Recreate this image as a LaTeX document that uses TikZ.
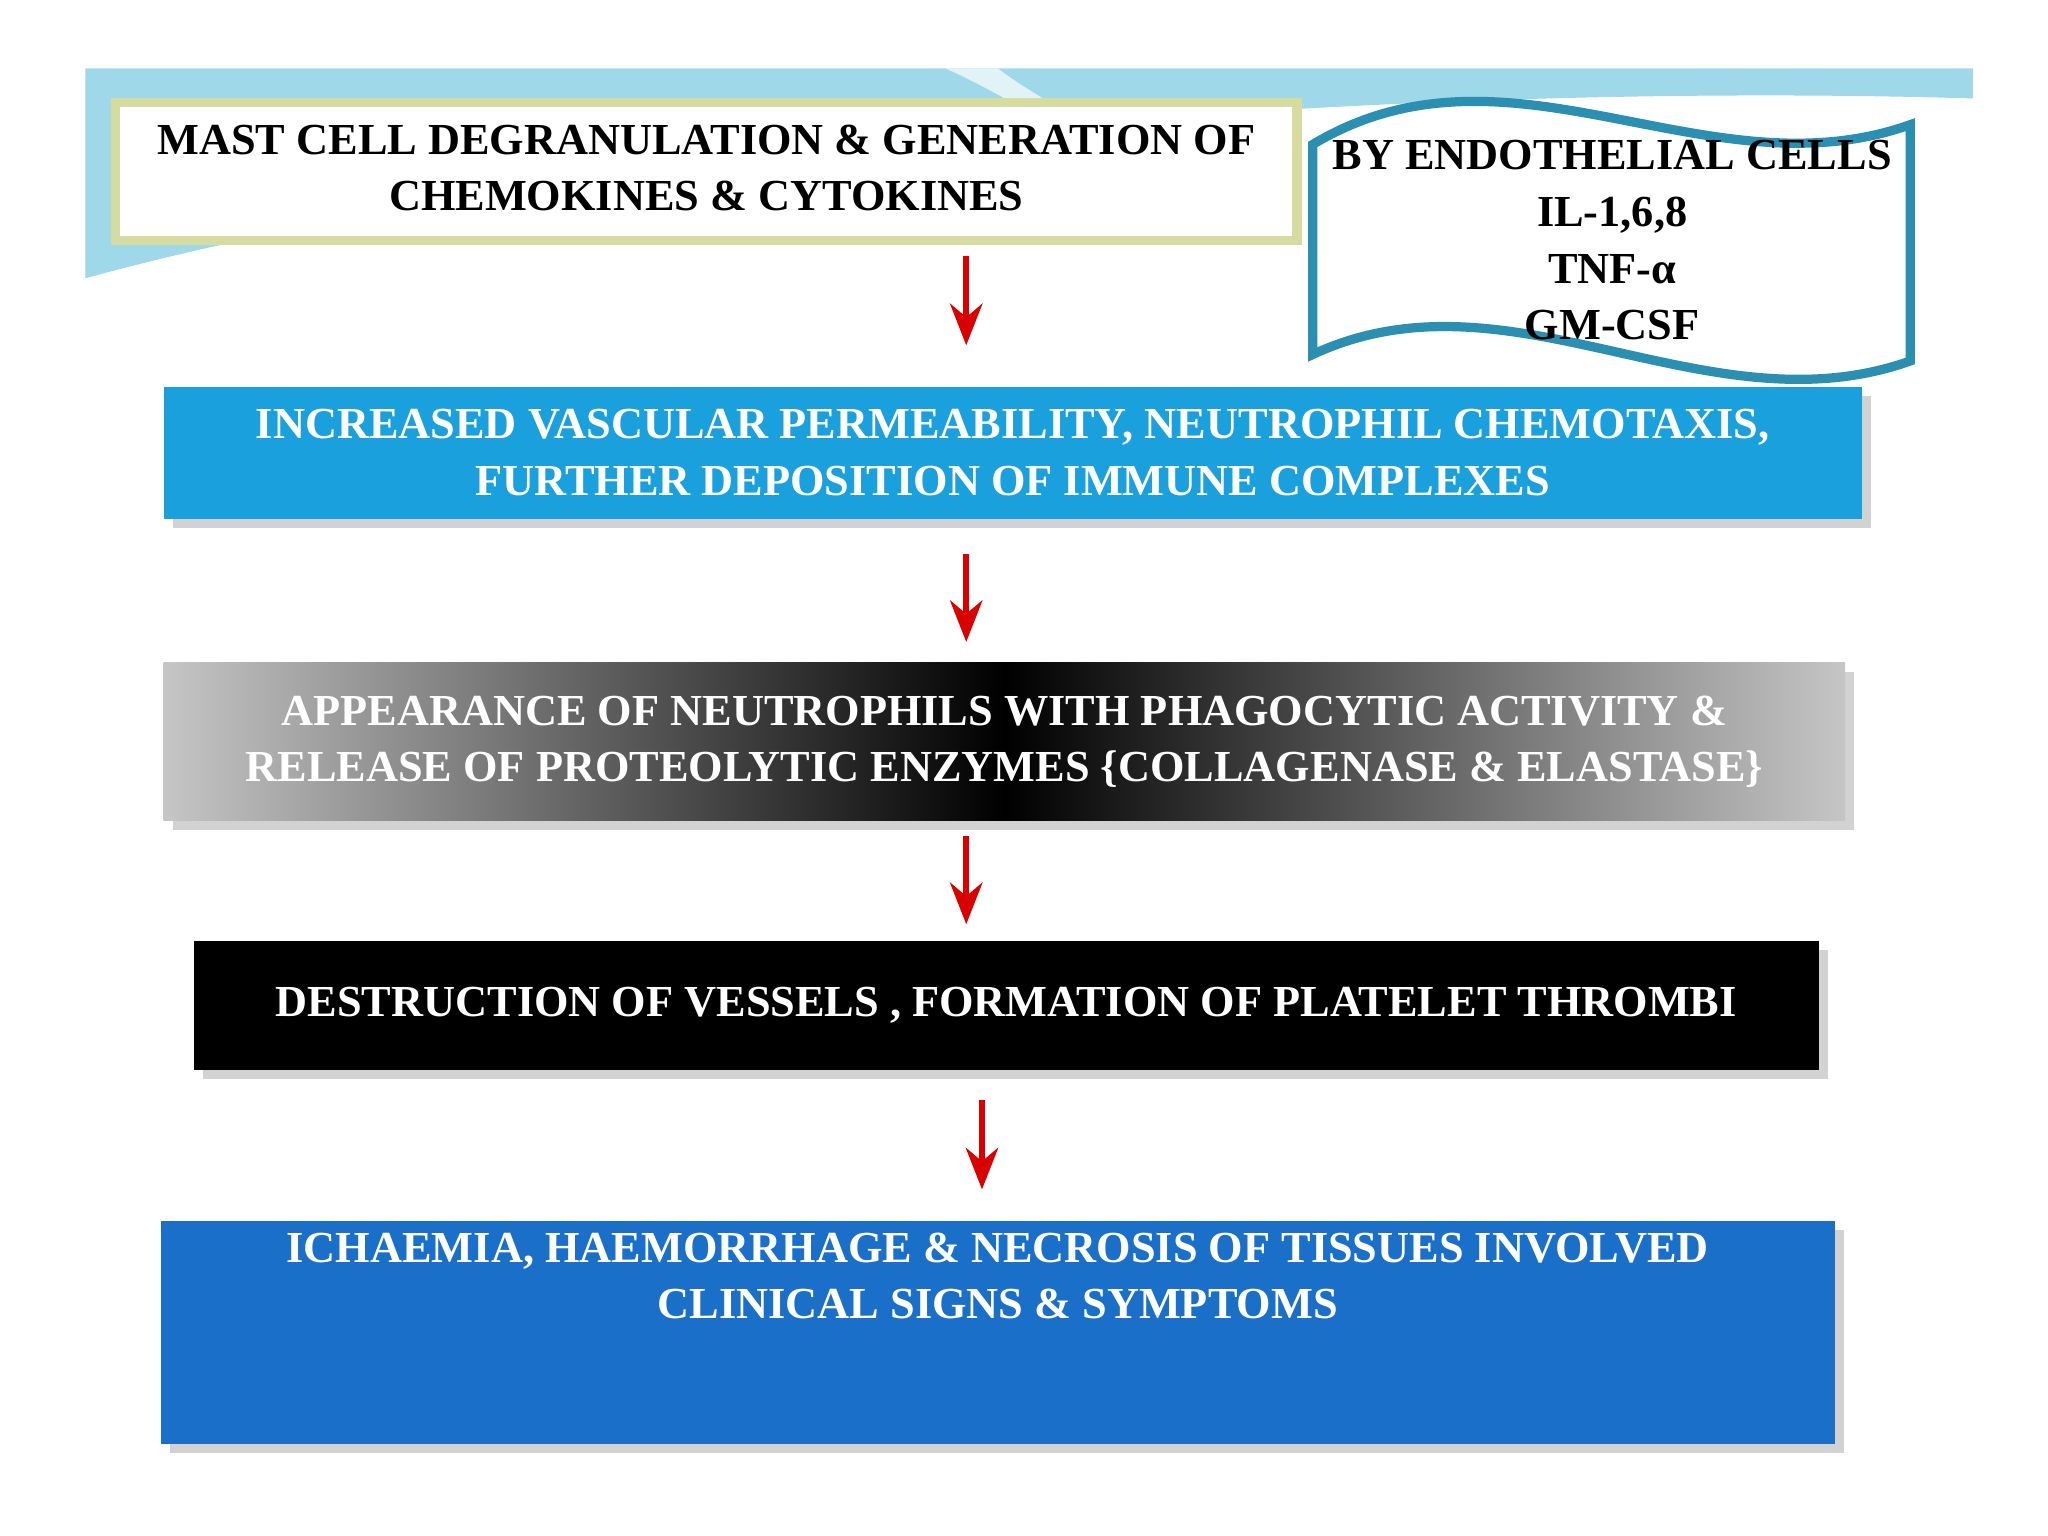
\documentclass[tikz,border=0pt]{standalone}
\usepackage{fontspec}
\setmainfont{Liberation Serif}
\usetikzlibrary{shadows,arrows.meta}
\definecolor{bandc}{HTML}{9FD8E8}
\definecolor{wavec}{HTML}{2A8FB0}
\definecolor{boxa}{HTML}{1AA0DC}
\definecolor{boxb}{HTML}{1A6FC8}
\definecolor{olive}{HTML}{D6DCA0}
\tikzset{
 txt/.style={font=\bfseries\fontsize{9.6}{12.3}\selectfont, align=center},
 arr/.style={-{Stealth[length=9pt,width=7pt]}, draw=red!85!black, line width=1.3pt},
 flow/.style={inner sep=0pt, drop shadow={shadow xshift=2pt,shadow yshift=-2pt,opacity=.35}},
}
\begin{document}
\begin{tikzpicture}[x=0.01cm,y=-0.01cm]
\useasboundingbox (0,0) rectangle (1560,1170);
\fill[white] (0,0) rectangle (1560,1170);
% top banner
\fill[bandc] (65,52) -- (1503,52) -- (1503,75) .. controls (1000,60) and (400,120) .. (65,212) -- cycle;
\fill[white,opacity=.7] (720,52) .. controls (760,70) and (790,90) .. (810,100) -- (840,100) .. controls (800,80) and (770,60) .. (760,52) -- cycle;
% box 1
\draw[olive, line width=2pt, fill=white] (88,78) rectangle (988,183);
\node[txt] (b1) at (538,128) {MAST CELL DEGRANULATION \& GENERATION OF\\CHEMOKINES \& CYTOKINES};
% wave box
\draw[wavec, line width=2pt, fill=white] (1000,110) .. controls (1150,20) and (1300,150) .. (1455,95) -- (1455,275) .. controls (1300,330) and (1150,200) .. (1000,270) -- cycle;
\node[txt] (w) at (1228,183) {BY ENDOTHELIAL CELLS\\IL-1,6,8\\TNF-α\\GM-CSF};
% boxes
\node[flow, fill=boxa, minimum width=12.93cm, minimum height=1cm] (b2) at (771.5,345) {};
\node[txt, text=white] at (b2) {INCREASED VASCULAR PERMEABILITY, NEUTROPHIL CHEMOTAXIS,\\FURTHER DEPOSITION OF IMMUNE COMPLEXES};
\node[flow, left color=gray!45, right color=gray!45, middle color=black, minimum width=12.8cm, minimum height=1.2cm] (b3) at (765,565) {};
\node[txt, text=white] at (b3) {APPEARANCE OF NEUTROPHILS WITH PHAGOCYTIC ACTIVITY \&\\RELEASE OF PROTEOLYTIC ENZYMES \{COLLAGENASE \& ELASTASE\}};
\node[flow, fill=black, minimum width=12.37cm, minimum height=0.98cm] (b4) at (766.5,766) {};
\node[txt, text=white] at (b4) {DESTRUCTION OF VESSELS , FORMATION OF PLATELET THROMBI};
\node[flow, fill=boxb, minimum width=12.74cm, minimum height=1.7cm] (b5) at (760,1015) {};
\node[txt, text=white] at (760,972) {ICHAEMIA, HAEMORRHAGE \& NECROSIS OF TISSUES INVOLVED\\CLINICAL SIGNS \& SYMPTOMS};
% arrows
\coordinate (a1) at (736,195); \coordinate (a1e) at (736,263);
\coordinate (a2) at (736,422); \coordinate (a2e) at (736,489);
\coordinate (a3) at (736,637); \coordinate (a3e) at (736,704);
\coordinate (a4) at (748,838); \coordinate (a4e) at (748,906);
\draw[arr] (a1) -- (a1e);
\draw[arr] (a2) -- (a2e);
\draw[arr] (a3) -- (a3e);
\draw[arr] (a4) -- (a4e);
\end{tikzpicture}
\end{document}
